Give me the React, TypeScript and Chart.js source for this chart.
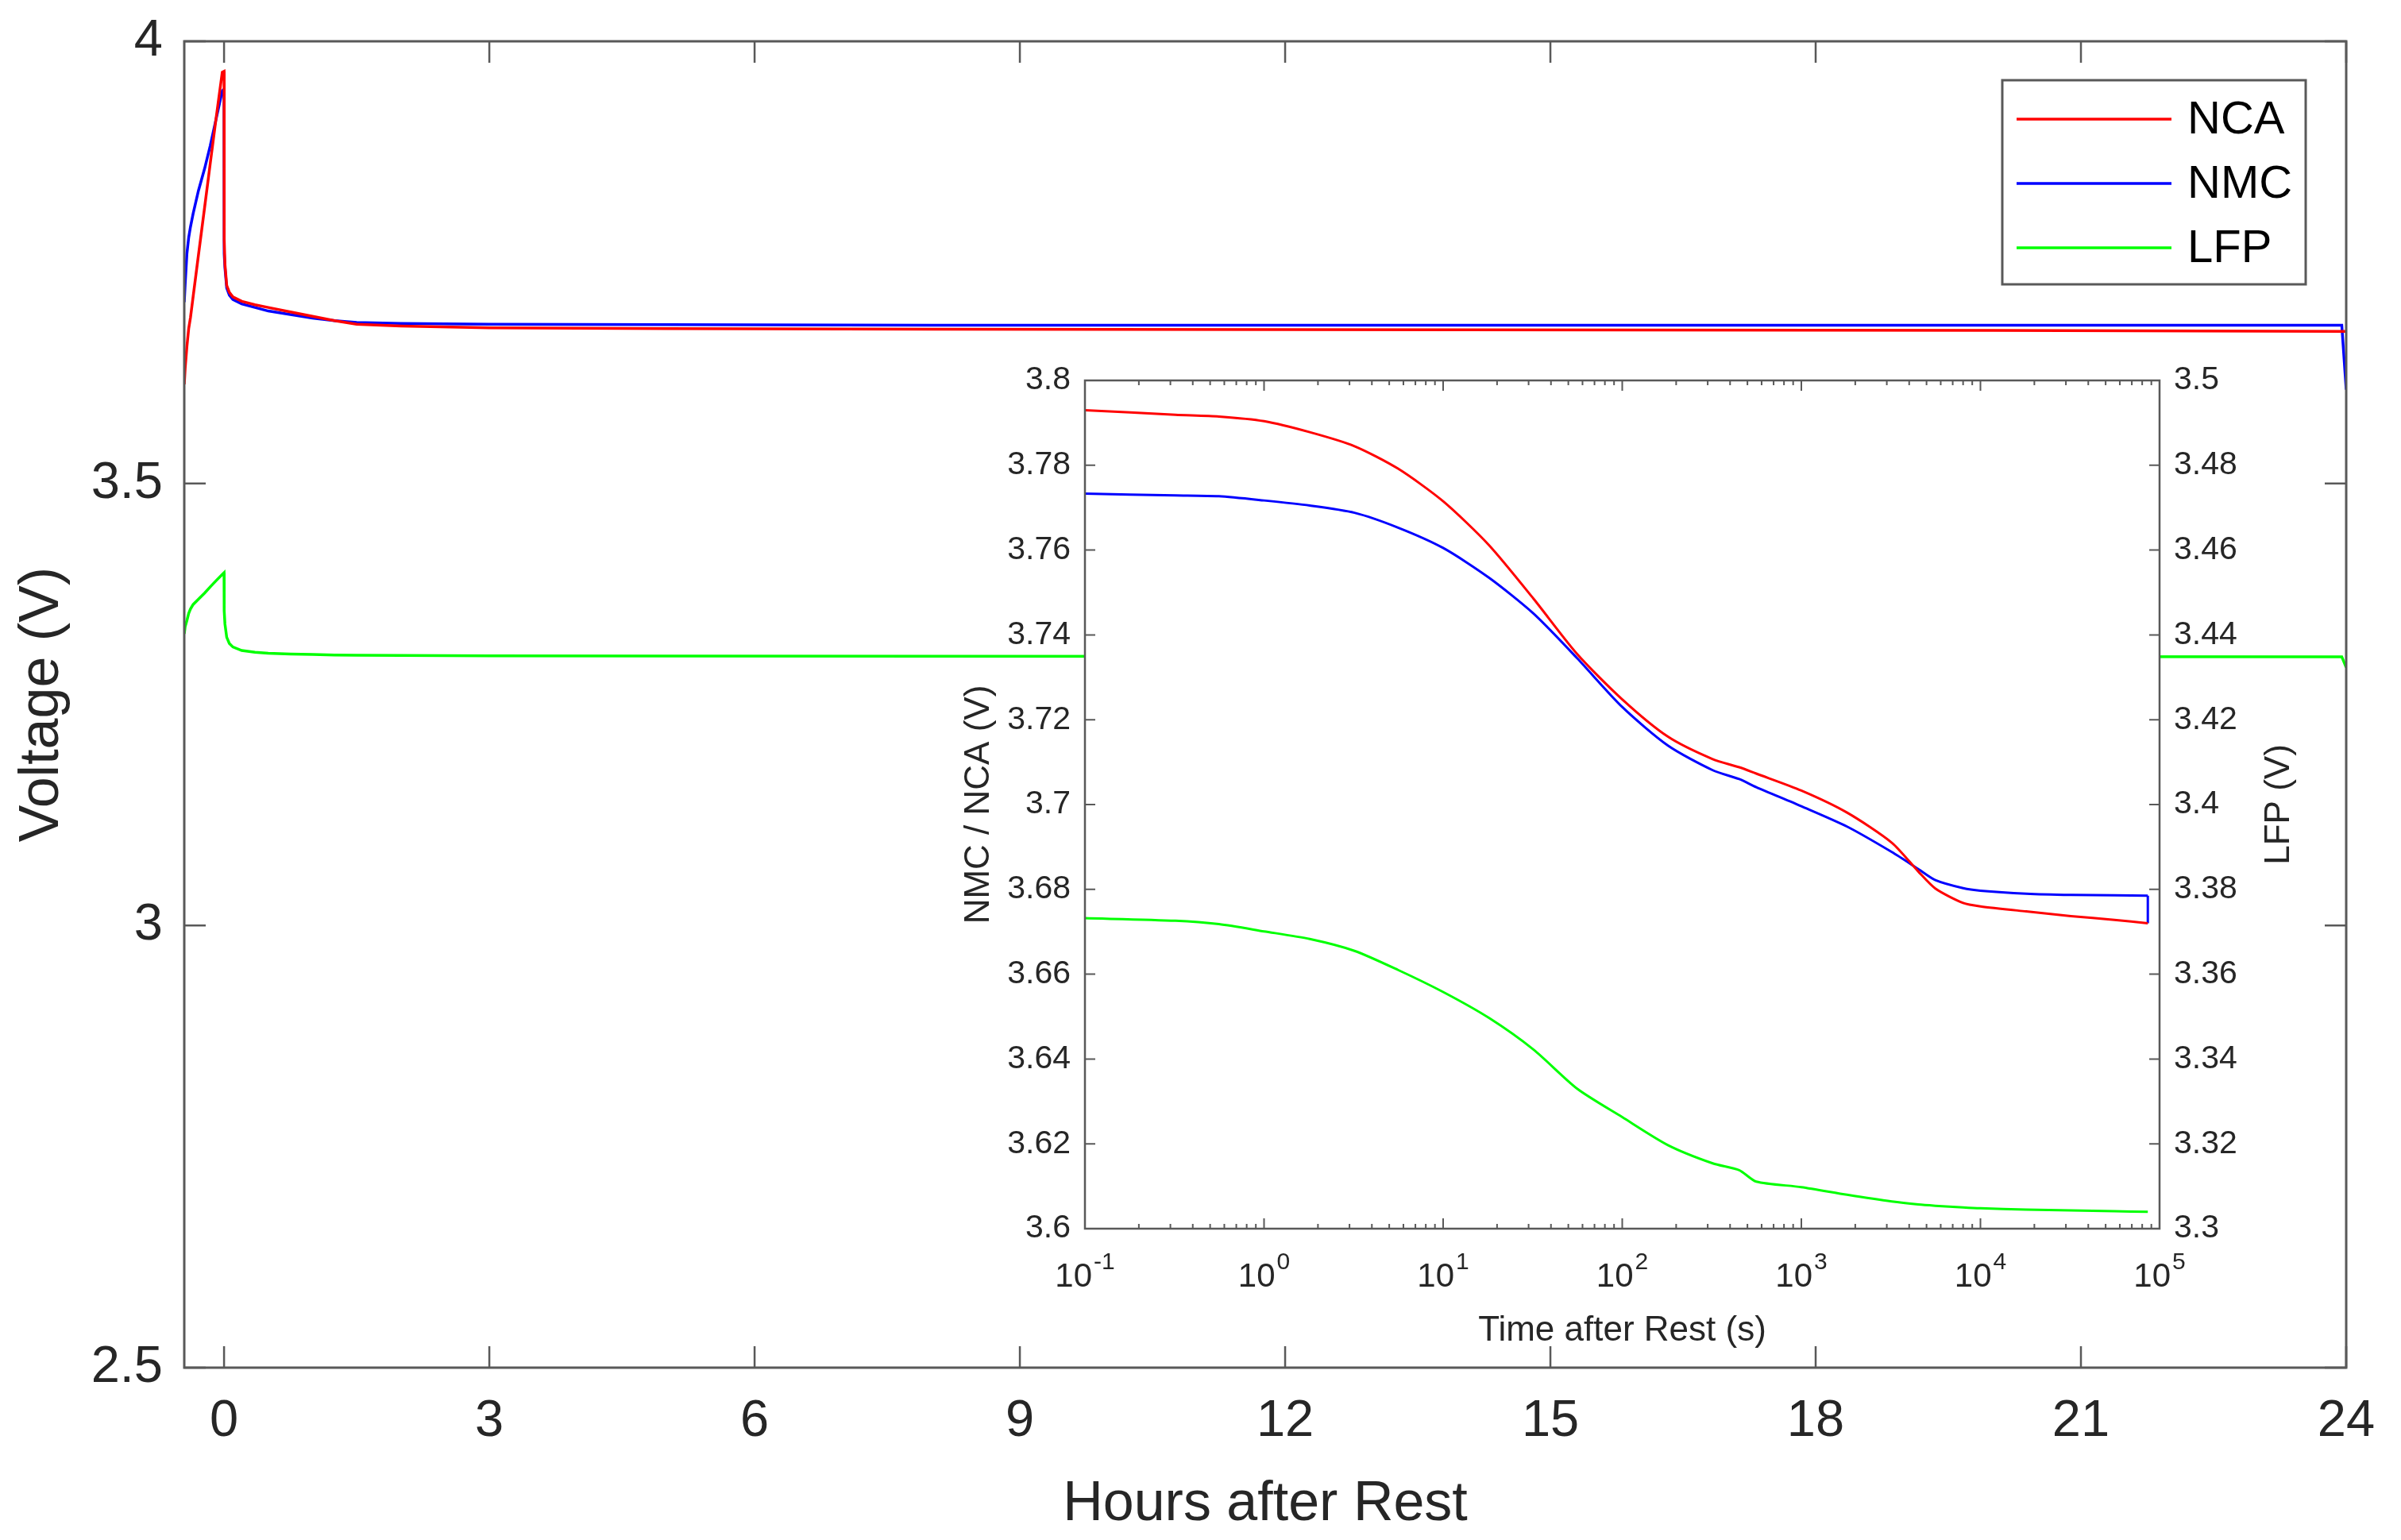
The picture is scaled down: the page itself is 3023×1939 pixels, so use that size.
import React, { useEffect, useRef } from "react";
import { Chart, registerables } from "chart.js";

Chart.register(...registerables);

const FONT = '"Liberation Sans", Arial, Helvetica, sans-serif';
const TEXT_COLOR = "#262626";
const AXIS_COLOR = "#595959";
const SERIES_COLORS = ["#ff0000", "#0000ff", "#00ff00"];
const SERIES_LABELS = ["NCA", "NMC", "LFP"];

// ---------- main chart (hours after rest) ----------
const MAIN_HOURS = [
  -0.45, -0.44, -0.42, -0.4, -0.38, -0.35, -0.29, -0.22, -0.156, -0.09, -0.02, 0,
  0.0001, 0.003, 0.01, 0.03, 0.06, 0.1, 0.2, 0.35, 0.5, 0.75, 1.0, 1.25, 1.5, 2.0,
  3, 5, 8, 12, 16, 20, 23.95, 24,
];
const MAIN_NCA = [
  3.612, 3.63, 3.655, 3.675, 3.6875, 3.711, 3.758, 3.812, 3.862, 3.913, 3.965, 3.966,
  3.792, 3.776, 3.748, 3.724, 3.716, 3.711, 3.706, 3.702, 3.699, 3.694, 3.689, 3.684, 3.68, 3.678,
  3.676, 3.675, 3.6745, 3.674, 3.6735, 3.673, 3.672, 3.672,
];
const MAIN_NMC = [
  3.705, 3.725, 3.76, 3.778, 3.79, 3.805, 3.831, 3.856, 3.882, 3.912, 3.944, 3.946,
  3.773, 3.76, 3.744, 3.721, 3.713, 3.708, 3.703, 3.699, 3.695, 3.691, 3.687, 3.684, 3.682, 3.681,
  3.68, 3.6795, 3.679, 3.679, 3.679, 3.679, 3.679, 3.606,
];
const MAIN_LFP = [
  3.33, 3.338, 3.345, 3.353, 3.358, 3.363, 3.369, 3.376, 3.383, 3.39, 3.397, 3.399,
  3.373, 3.356, 3.341, 3.326, 3.319, 3.315, 3.311, 3.309, 3.308, 3.307, 3.3065, 3.306, 3.3058, 3.3055,
  3.305, 3.3047, 3.3045, 3.3043, 3.3042, 3.3041, 3.304, 3.292,
];
const MAIN_X_TICKS = [0, 3, 6, 9, 12, 15, 18, 21, 24];
const MAIN_Y_TICKS = [2.5, 3, 3.5, 4];

// ---------- inset (log time after rest, seconds) ----------
const INSET_SECONDS = [
  0.1, 0.32, 0.56, 1, 1.8, 3.2, 5.6, 10, 18, 32, 56, 100, 180, 320, 450, 560,
  1000, 1800, 3200, 4500, 5600, 8000, 10000, 18000, 32000, 56000, 86000,
];
const INSET_NCA = [
  3.793, 3.7919, 3.7915, 3.7904, 3.7878, 3.7845, 3.7792, 3.7715, 3.7612, 3.7485, 3.7355, 3.7248,
  3.716, 3.7107, 3.7088, 3.7073, 3.7033, 3.6981, 3.691, 3.6842, 3.6802, 3.6768, 3.676, 3.6748,
  3.6737, 3.6728, 3.672,
];
const INSET_NMC = [
  3.7733, 3.7729, 3.7727, 3.7717, 3.7705, 3.7688, 3.7653, 3.7605, 3.7535, 3.745, 3.7345, 3.723,
  3.7139, 3.7081, 3.706, 3.7041, 3.6996, 3.6948, 3.6888, 3.6848, 3.6822, 3.6803, 3.6797, 3.679,
  3.6787, 3.6786, 3.6785,
];
// final vertical step of the NMC trace at the end of the record
const INSET_NMC_END_SECONDS = [86000, 86000];
const INSET_NMC_END = [3.6785, 3.672];
const INSET_LFP = [
  3.3732, 3.3726, 3.3718, 3.3701, 3.3683, 3.3655, 3.361, 3.3558, 3.3497, 3.3422, 3.333, 3.3263,
  3.3197, 3.3154, 3.3138, 3.3111, 3.3098, 3.308, 3.3064, 3.3057, 3.3054, 3.305, 3.3048, 3.3045,
  3.3043, 3.3041, 3.304,
];
const INSET_X_TICKS = [0.1, 1, 10, 100, 1000, 10000, 100000];
const INSET_Y_TICKS = [3.6, 3.62, 3.64, 3.66, 3.68, 3.7, 3.72, 3.74, 3.76, 3.78, 3.8];
const INSET_Y2_TICKS = [3.3, 3.32, 3.34, 3.36, 3.38, 3.4, 3.42, 3.44, 3.46, 3.48, 3.5];

const zip = (xs: number[], ys: number[]) => ys.map((y, i) => ({ x: xs[i], y }));
const fmt = (v: number | string) => String(Number(Number(v).toFixed(2)));
const decadeExp = (v: number | string) => String(Math.round(Math.log10(Number(v))));

const fixTicks = (vals: number[]) => (scale: any) => {
  scale.ticks = vals.map((v) => ({ value: v }));
};
const fitSize = (key: "width" | "height", size: number) => (s: any) => {
  s[key] = size;
  s.paddingTop = 0;
  s.paddingBottom = 0;
  s.paddingLeft = 0;
  s.paddingRight = 0;
};

function boxPlugin(opts: { major: number; minor: number; lw: number; tickLw: number; inset: boolean }) {
  return {
    id: "boxTicks",
    beforeDraw(chart: any) {
      if (!opts.inset) return;
      const { ctx, chartArea: a } = chart;
      ctx.save();
      ctx.fillStyle = "#ffffff";
      ctx.fillRect(a.left, a.top, a.right - a.left, a.bottom - a.top);
      ctx.restore();
    },
    afterDraw(chart: any) {
      const { ctx, chartArea: a } = chart;
      const xs = chart.scales.x;
      const yl = chart.scales.y;
      const yr = chart.scales.y2 || chart.scales.y;
      ctx.save();
      ctx.strokeStyle = AXIS_COLOR;
      ctx.lineWidth = opts.tickLw;
      ctx.beginPath();
      const vTick = (px: number, len: number) => {
        ctx.moveTo(px, a.bottom);
        ctx.lineTo(px, a.bottom - len);
        ctx.moveTo(px, a.top);
        ctx.lineTo(px, a.top + len);
      };
      xs.ticks.forEach((t: any) => vTick(xs.getPixelForValue(t.value), opts.major));
      if (opts.inset) {
        for (let i = 0; i < INSET_X_TICKS.length - 1; i++) {
          for (let m = 2; m <= 9; m++) vTick(xs.getPixelForValue(INSET_X_TICKS[i] * m), opts.minor);
        }
      }
      yl.ticks.forEach((t: any) => {
        const py = yl.getPixelForValue(t.value);
        ctx.moveTo(a.left, py);
        ctx.lineTo(a.left + opts.major, py);
      });
      yr.ticks.forEach((t: any) => {
        const py = yr.getPixelForValue(t.value);
        ctx.moveTo(a.right, py);
        ctx.lineTo(a.right - opts.major, py);
      });
      ctx.stroke();
      ctx.lineWidth = opts.lw;
      ctx.strokeRect(a.left, a.top, a.right - a.left, a.bottom - a.top);
      if (opts.inset) {
        ctx.fillStyle = TEXT_COLOR;
        // decade labels 10^n with raised exponent
        ctx.textAlign = "left";
        ctx.textBaseline = "alphabetic";
        xs.ticks.forEach((t: any) => {
          const px = xs.getPixelForValue(t.value);
          const exp = decadeExp(t.value);
          ctx.font = `42px ${FONT}`;
          const wb = ctx.measureText("10").width;
          ctx.font = `30px ${FONT}`;
          const we = ctx.measureText(exp).width;
          const x0 = px - (wb + 2 + we) / 2;
          const base = a.bottom + 73;
          ctx.font = `42px ${FONT}`;
          ctx.fillText("10", x0, base);
          ctx.font = `30px ${FONT}`;
          ctx.fillText(exp, x0 + wb + 2, base - 22);
        });
        // right-hand axis title, reading bottom-to-top
        ctx.font = `44px ${FONT}`;
        ctx.textAlign = "center";
        ctx.textBaseline = "middle";
        ctx.translate(yr.right - 60, (a.top + a.bottom) / 2);
        ctx.rotate(-Math.PI / 2);
        ctx.fillText("LFP (V)", 0, 0);
      }
      ctx.restore();
    },
  };
}

const legendPlugin = {
  id: "boxLegend",
  afterDraw(chart: any) {
    const { ctx, chartArea: a } = chart;
    const left = a.right - 433;
    const top = a.top + 49;
    const w = 382;
    const h = 257;
    ctx.save();
    ctx.fillStyle = "#ffffff";
    ctx.fillRect(left, top, w, h);
    ctx.strokeStyle = AXIS_COLOR;
    ctx.lineWidth = 3;
    ctx.strokeRect(left, top, w, h);
    ctx.font = `58px ${FONT}`;
    ctx.textBaseline = "middle";
    ctx.textAlign = "left";
    chart.data.datasets.forEach((ds: any, i: number) => {
      const cy = top + 49 + i * 81;
      ctx.strokeStyle = ds.borderColor;
      ctx.lineWidth = 3.5;
      ctx.beginPath();
      ctx.moveTo(left + 18, cy);
      ctx.lineTo(left + 213, cy);
      ctx.stroke();
      ctx.fillStyle = "#000000";
      ctx.fillText(ds.label, left + 233, cy + 2);
    });
    ctx.restore();
  },
};

export default function App() {
  const mainRef = useRef<HTMLCanvasElement | null>(null);
  const insetRef = useRef<HTMLCanvasElement | null>(null);

  useEffect(() => {
    if (!mainRef.current || !insetRef.current) return;
    const tickFont = { family: FONT, size: 65 };
    const titleFont = { family: FONT, size: 70 };

    const main = new Chart(mainRef.current, {
      type: "line",
      data: {
        datasets: [MAIN_NCA, MAIN_NMC, MAIN_LFP].map((vals, i) => ({
          label: SERIES_LABELS[i],
          data: zip(MAIN_HOURS, vals),
          borderColor: SERIES_COLORS[i],
          backgroundColor: SERIES_COLORS[i],
          borderWidth: 3.5,
          pointRadius: 0,
          tension: 0,
          fill: false,
        })),
      },
      options: {
        responsive: false,
        devicePixelRatio: 1,
        animation: false,
        events: [],
        layout: { padding: { top: 52, right: 69, left: 0, bottom: 0 } },
        plugins: { legend: { display: false }, tooltip: { enabled: false } },
        scales: {
          x: {
            type: "linear",
            min: -0.45,
            max: 24,
            afterBuildTicks: fixTicks(MAIN_X_TICKS),
            afterFit: fitSize("height", 217),
            grid: { display: false, drawTicks: false },
            border: { display: false },
            ticks: { font: tickFont, color: TEXT_COLOR, padding: 29, maxRotation: 0, autoSkip: false, callback: (v: any) => fmt(v) },
            title: { display: true, text: "Hours after Rest", font: titleFont, color: TEXT_COLOR, padding: { top: 0, bottom: 2 } },
          },
          y: {
            type: "linear",
            min: 2.5,
            max: 4,
            afterBuildTicks: fixTicks(MAIN_Y_TICKS),
            afterFit: fitSize("width", 232),
            grid: { display: false, drawTicks: false },
            border: { display: false },
            ticks: { font: tickFont, color: TEXT_COLOR, padding: 27, autoSkip: false, callback: (v: any) => fmt(v) },
            title: { display: true, text: "Voltage (V)", font: titleFont, color: TEXT_COLOR, padding: { top: 12, bottom: 0 } },
          },
        },
      },
      plugins: [boxPlugin({ major: 27, minor: 0, lw: 3, tickLw: 2.5, inset: false }), legendPlugin],
    } as any);

    const insetTickFont = { family: FONT, size: 41 };
    const insetTitleFont = { family: FONT, size: 44 };
    const inset = new Chart(insetRef.current, {
      type: "line",
      data: {
        datasets: [
          { label: SERIES_LABELS[0], data: zip(INSET_SECONDS, INSET_NCA), yAxisID: "y", borderColor: SERIES_COLORS[0], tension: 0.25 },
          { label: SERIES_LABELS[1], data: zip(INSET_SECONDS, INSET_NMC), yAxisID: "y", borderColor: SERIES_COLORS[1], tension: 0.25 },
          { label: SERIES_LABELS[1], data: zip(INSET_NMC_END_SECONDS, INSET_NMC_END), yAxisID: "y", borderColor: SERIES_COLORS[1], tension: 0 },
          { label: SERIES_LABELS[2], data: zip(INSET_SECONDS, INSET_LFP), yAxisID: "y2", borderColor: SERIES_COLORS[2], tension: 0.25 },
        ].map((d) => ({ ...d, borderWidth: 3, pointRadius: 0, fill: false })),
      },
      options: {
        responsive: false,
        devicePixelRatio: 1,
        animation: false,
        events: [],
        layout: { padding: { top: 39, right: 0, left: 0, bottom: 0 } },
        plugins: { legend: { display: false }, tooltip: { enabled: false } },
        scales: {
          x: {
            type: "logarithmic",
            min: 0.1,
            max: 100000,
            afterBuildTicks: fixTicks(INSET_X_TICKS),
            afterFit: fitSize("height", 173),
            grid: { display: false, drawTicks: false },
            border: { display: false },
            ticks: { display: false, font: insetTickFont, color: TEXT_COLOR, padding: 33, maxRotation: 0, autoSkip: false },
            title: { display: true, text: "Time after Rest (s)", font: insetTitleFont, color: TEXT_COLOR, padding: { top: 0, bottom: 18 } },
          },
          y: {
            type: "linear",
            position: "left",
            min: 3.6,
            max: 3.8,
            afterBuildTicks: fixTicks(INSET_Y_TICKS),
            afterFit: fitSize("width", 206),
            grid: { display: false, drawTicks: false },
            border: { display: false },
            ticks: { font: insetTickFont, color: TEXT_COLOR, padding: 18, autoSkip: false, callback: (v: any) => fmt(v) },
            title: { display: true, text: "NMC / NCA (V)", font: insetTitleFont, color: TEXT_COLOR, padding: { top: 46, bottom: 0 } },
          },
          y2: {
            type: "linear",
            position: "right",
            min: 3.3,
            max: 3.5,
            afterBuildTicks: fixTicks(INSET_Y2_TICKS),
            afterFit: fitSize("width", 211),
            grid: { display: false, drawTicks: false },
            border: { display: false },
            ticks: { font: insetTickFont, color: TEXT_COLOR, padding: 18, autoSkip: false, callback: (v: any) => fmt(v) },
            title: { display: false, text: "LFP (V)" },
          },
        },
      },
      plugins: [boxPlugin({ major: 13, minor: 6, lw: 2.5, tickLw: 2, inset: true })],
    } as any);

    return () => {
      main.destroy();
      inset.destroy();
    };
  }, []);

  return (
    <div style={{ position: "fixed", left: 0, top: 0, width: 3023, height: 1939, background: "#ffffff", overflow: "hidden" }}>
      <canvas ref={mainRef} width={3023} height={1939} style={{ position: "absolute", left: 0, top: 0, width: 3023, height: 1939 }} />
      <canvas ref={insetRef} width={1770} height={1280} style={{ position: "absolute", left: 1160, top: 440, width: 1770, height: 1280 }} />
    </div>
  );
}
